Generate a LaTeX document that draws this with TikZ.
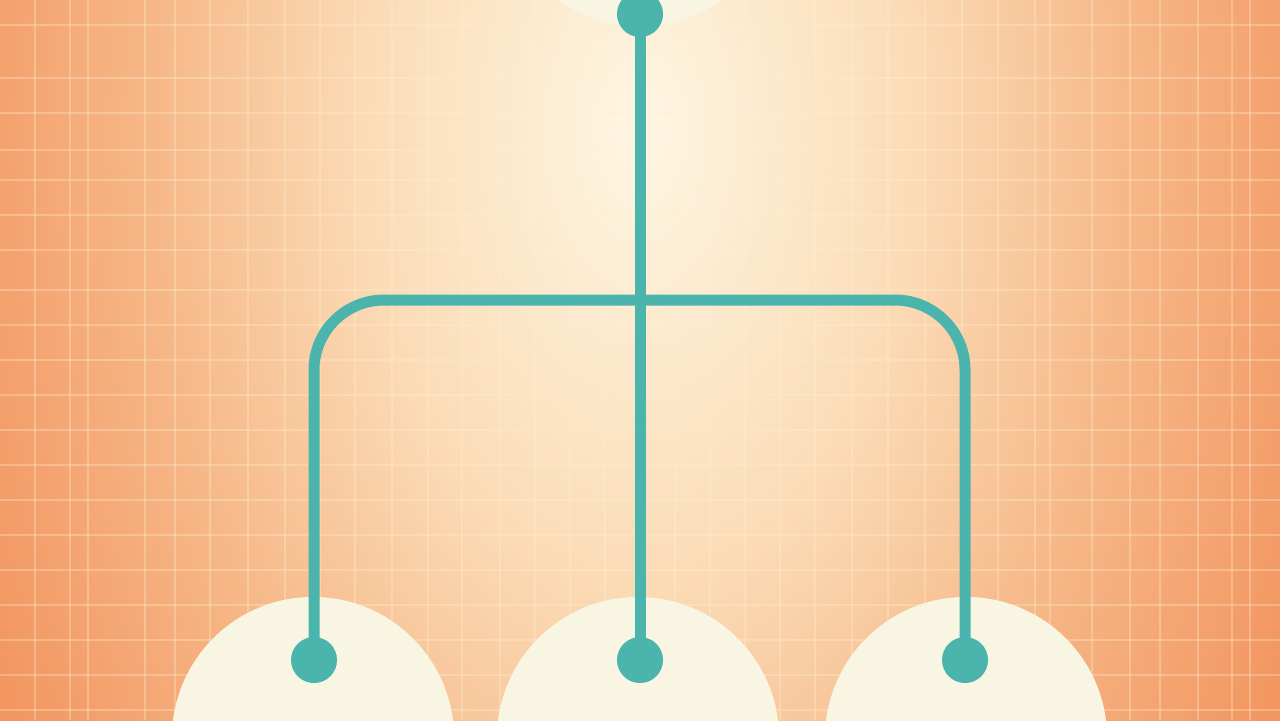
\documentclass[tikz,border=0pt]{standalone}
\usetikzlibrary{positioning}
\definecolor{cA}{HTML}{FEF6E3}
\definecolor{cB}{HTML}{FBDDB8}
\definecolor{cC}{HTML}{F6B686}
\definecolor{cD}{HTML}{F2955F}
\definecolor{teal}{HTML}{4BB5AD}
\definecolor{cream}{HTML}{F8F5E2}
\definecolor{gridc}{HTML}{FFEFD0}
\pgfdeclareradialshading{bgglow}{\pgfpoint{0cm}{0cm}}{color(0bp)=(cA); color(9bp)=(cB); color(17bp)=(cC); color(25bp)=(cD); color(50bp)=(cD)}
\tikzset{
  dot/.style={circle, fill=teal, inner sep=0pt, minimum size=0.46cm},
  link/.style={draw=teal, line width=0.11cm, rounded corners=0.7cm},
  gridline/.style={gridc, opacity=0.32, line width=0.02cm},
  bubble/.style={fill=cream}
}
\begin{document}
\begin{tikzpicture}[x=0.01cm, y=-0.01cm]
\useasboundingbox (0,0) rectangle (1280,720);
\clip (0,0) rectangle (1280,720);
% background glow
\shade[shading=bgglow] (-90,-1070) rectangle (1370,1330);
% grid
\foreach \gx in {35,70,88,145,175,210,248,285,320,355,392,428,462,500,535,570,605,675,710,745,780,815,852,888,925,962,998,1035,1050,1092,1130,1160,1198,1232,1250}
  \draw[gridline] (\gx,0) -- (\gx,720);
\foreach \gy in {25,78,113,150,180,215,250,290,325,360,395,430,465,500,535,570,605,640,675,710}
  \draw[gridline] (0,\gy) -- (1280,\gy);
% bubbles
\fill[bubble] (640,-115) circle[radius=1.41cm];
\fill[bubble] (313,738) circle[radius=1.41cm];
\fill[bubble] (638,738) circle[radius=1.41cm];
\fill[bubble] (966,738) circle[radius=1.41cm];
% tree
\coordinate (hub) at (640,300);
\node[dot] (top) at (640,14) {};
\node[dot] (left) at (314,660) {};
\node[dot] (mid) at (640,660) {};
\node[dot] (right) at (965,660) {};
\draw[link] (top.center) -- (mid.center);
\draw[link] (left.center) |- (hub) -| (right.center);
\end{tikzpicture}
\end{document}
